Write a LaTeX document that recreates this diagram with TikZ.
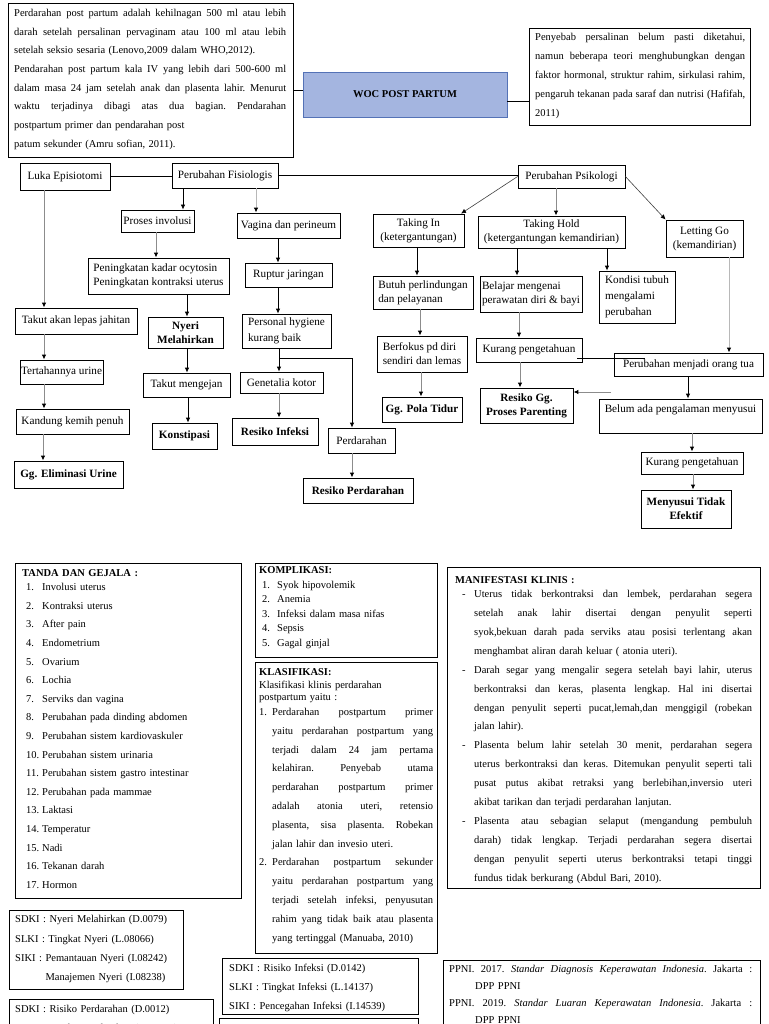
\documentclass[tikz,border=0pt]{standalone}
\usepackage{fontspec}
\setmainfont{Liberation Serif}
\usetikzlibrary{arrows.meta}
\definecolor{wocfill}{RGB}{164,181,224}
\definecolor{wocdraw}{RGB}{84,114,182}
\newcommand\jsp{\frenchspacing\spaceskip=0.25em plus 1fil\relax}
\newcommand\jl[1]{\makebox[\linewidth][s]{\jsp#1}\par}
\newcommand\rl[1]{#1\par}
\newcommand\jx[2]{\hspace*{#1}\makebox[\dimexpr\linewidth-#1\relax][s]{\jsp#2}\par}
\newcommand\rx[2]{\hspace*{#1}#2\par}
\newcommand\jd[1]{\hspace*{7pt}\makebox[12pt][l]{-}\makebox[\dimexpr\linewidth-19pt\relax][s]{\jsp#1}\par}
\newcommand\li[4]{\hspace*{#1}\makebox[#2][l]{#3}#4\par}
\newcommand\myBold{\fontsize{11.2}{14}\selectfont\bfseries}
\newcommand\bx[7][]{%
  \pgfmathsetmacro\bxw{#5-#3}\pgfmathsetmacro\bxh{#6-#4}%
  \pgfmathsetmacro\bxx{(#3+#5)/2}\pgfmathsetmacro\bxy{(#4+#6)/2}%
  \node[fb,minimum width=\bxw pt,minimum height=\bxh pt,#1] (#2) at (\bxx,\bxy) {#7};}
\newcommand\fr[5]{%
  \pgfmathsetmacro\bxw{#4-#2}\pgfmathsetmacro\bxh{#5-#3}%
  \node[frame,minimum width=\bxw pt,minimum height=\bxh pt] (#1) at (#2,#3) {};}
\begin{document}
\begin{tikzpicture}[x=1pt,y=-1pt,
  fb/.style={draw=black,line width=0.8pt,fill=white,inner sep=1pt,align=center,
    font=\fontsize{11.2}{14}\selectfont},
  frame/.style={draw=black,line width=0.8pt,fill=white,inner sep=0pt,anchor=north west},
  tx/.style={anchor=north west,inner sep=0pt},
  conn/.style={draw=black,line width=0.8pt},
  arr/.style={conn,-{Latex[length=5pt,width=4.5pt]}},
  arrD/.style={draw=black!75,line width=0.6pt,-{Latex[length=5pt,width=4.5pt,color=black]}},
  arrG/.style={draw=black!45,line width=1pt,-{Latex[length=5pt,width=4.5pt,color=black]}},
  arrL/.style={draw=black!28,line width=1pt,-{Latex[length=5pt,width=4.5pt,color=black]}},
]
\useasboundingbox (0,0) rectangle (768,1024);
\fill[white] (0,0) rectangle (768,1024);

% ---------- top ----------
\fr{tl}{8}{3}{293}{157}
\node[tx,text width=272pt,font=\fontsize{10.5}{18.7}\selectfont] (tlT) at (14,9) {%
\jl{Perdarahan post partum adalah kehilnagan 500 ml atau lebih}
\jl{darah setelah persalinan pervaginam atau 100 ml atau lebih}
\rl{setelah seksio sesaria (Lenovo,2009 dalam WHO,2012).}
\jl{Pendarahan post partum kala IV yang lebih dari 500-600 ml}
\jl{dalam masa 24 jam setelah anak dan plasenta lahir. Menurut}
\jl{waktu terjadinya dibagi atas dua bagian. Pendarahan}
\rl{postpartum primer dan pendarahan post}
\rl{patum sekunder (Amru sofian, 2011).}};

\node[draw=wocdraw,line width=0.8pt,fill=wocfill,minimum width=204pt,minimum height=45pt,
  font=\fontsize{10.5}{13}\selectfont\bfseries] (woc) at (405,94.5) {WOC POST PARTUM};

\fr{rt}{529}{28}{750}{125}
\node[tx,text width=210pt,font=\fontsize{10.5}{19}\selectfont] (rtT) at (535,33.5) {%
\jl{Penyebab persalinan belum pasti diketahui,}
\jl{namun beberapa teori menghubungkan dengan}
\jl{faktor hormonal, struktur rahim, sirkulasi rahim,}
\jl{pengaruh tekanan pada saraf dan nutrisi (Hafifah,}
\rl{2011)}};

\draw[conn] (tl.east |- 0,90) -- (woc.west |- 0,90);
\draw[conn] (woc.east |- 0,101) -- (rt.west |- 0,101);

% ---------- flow: fisiologis ----------
\bx{luka}{20}{163}{110}{190}{Luka Episiotomi}
\bx{fis}{172}{163}{278}{188}{Perubahan Fisiologis}
\bx{psi}{518}{165}{625}{188}{Perubahan Psikologi}
\bx{invol}{121}{210}{194}{232}{Proses involusi}
\bx{vag}{237}{213}{340}{238}{Vagina dan perineum}
\bx[align=left]{ocy}{88}{258}{229}{294}{Peningkatan kadar ocytosin\\Peningkatan kontraksi uterus}
\bx{rup}{245}{263}{332}{287}{Ruptur jaringan}
\bx{takut}{15}{308}{137}{334}{Takut akan lepas jahitan}
\bx[font=\myBold]{nyeri}{148}{317}{223}{348}{Nyeri\\Melahirkan}
\bx[align=left,font=\fontsize{11.2}{16}\selectfont]{pers}{242}{314}{331}{348}{Personal hygiene\\kurang baik}
\bx{tert}{26}{360}{97}{384}{Tertahannya urine}
\bx{kand}{16}{409}{129}{434}{Kandung kemih penuh}
\bx[font=\myBold]{elim}{14}{461}{123}{488}{Gg. Eliminasi Urine}
\bx{mengejan}{143}{373}{230}{397}{Takut mengejan}
\bx[font=\myBold]{konst}{152}{423}{217}{449}{Konstipasi}
\bx{gen}{240}{372}{323}{393}{Genetalia kotor}
\bx[font=\myBold]{rinf}{232}{418}{318}{445}{Resiko Infeksi}
\bx{perd}{328}{428}{395}{453}{Perdarahan}
\bx[font=\myBold]{rperd}{303}{478}{413}{503}{Resiko Perdarahan}

% ---------- flow: psikologi ----------
\bx{tin}{373}{214}{464}{247}{Taking In\\(ketergantungan)}
\bx{thold}{478}{216}{625}{248}{Taking Hold\\(ketergantungan kemandirian)}
\bx{lgo}{666}{220}{743}{257}{Letting Go\\(kemandirian)}
\bx[align=left]{butuh}{373}{276}{473}{309}{Butuh perlindungan\\dan pelayanan}
\bx[align=left]{belajar}{480}{276}{582}{312}{Belajar mengenai\\perawatan diri \& bayi}
\bx[align=left,font=\fontsize{11.2}{16}\selectfont]{kondisi}{599}{271}{675}{323}{Kondisi tubuh\\mengalami\\perubahan}
\bx[align=left]{berf}{377}{336}{467}{372}{Berfokus pd diri\\sendiri dan lemas}
\bx[font=\myBold]{pola}{382}{397}{462}{422}{Gg. Pola Tidur}
\bx{kurang}{476}{338}{582}{362}{Kurang pengetahuan}
\bx[font=\myBold]{parent}{480}{388}{573}{423}{Resiko Gg.\\Proses Parenting}
\bx{ortu}{614}{353}{763}{376}{Perubahan menjadi orang tua}
\bx{belum}{599}{399}{762}{433}{Belum ada pengalaman menyusui\\\mbox{}}
\bx{kurang2}{641}{452}{743}{474}{Kurang pengetahuan}
\bx[font=\myBold]{menyusui}{641}{490}{731}{528}{Menyusui Tidak\\Efektif}

% ---------- connectors ----------
\draw[conn] (luka.east) -- (luka.east -| fis.west);
\draw[conn] (fis.east) -- (fis.east -| psi.west);
\draw[arr] (183,0 |- fis.south) -- (183,0 |- invol.north);
\draw[arrL] (256,0 |- fis.south) -- (256,0 |- vag.north);
\draw[arrG] (156,0 |- invol.south) -- (156,0 |- ocy.north);
\draw[arr] (278,0 |- vag.south) -- (278,0 |- rup.north);
\draw[arr] (187,0 |- ocy.south) -- (187,0 |- nyeri.north);
\draw[arr] (278,0 |- rup.south) -- (278,0 |- pers.north);
\draw[arrG] (44,0 |- luka.south) -- (44,0 |- takut.north);
\draw[arrG] (44,0 |- takut.south) -- (44,0 |- tert.north);
\draw[arrG] (44,0 |- tert.south) -- (44,0 |- kand.north);
\draw[arrG] (43,0 |- kand.south) -- (43,0 |- elim.north);
\draw[arr] (187,0 |- nyeri.south) -- (187,0 |- mengejan.north);
\draw[arr] (188,0 |- mengejan.south) -- (188,0 |- konst.north);
\coordinate (split) at (279,358);
\coordinate (bend) at (352,358);
\draw[conn] (279,0 |- pers.south) -- (split);
\draw[arr] (split) -- (279,0 |- gen.north);
\draw[arr] (split) -- (bend) -- (bend |- perd.north);
\draw[arrG] (279,0 |- gen.south) -- (279,0 |- rinf.north);
\draw[arrG] (352,0 |- perd.south) -- (352,0 |- rperd.north);

\draw[arrD] (psi.west) -- (461,0 |- tin.north);
\draw[arrG] (556,0 |- psi.south) -- (556,0 |- thold.north);
\draw[arrD] (psi.east) -- (lgo.north west);
\draw[arr] (417,0 |- tin.south) -- (417,0 |- butuh.north);
\draw[arr] (517,0 |- thold.south) -- (517,0 |- belajar.north);
\draw[arr] (607,0 |- thold.south) -- (607,0 |- kondisi.north);
\draw[arrL] (729,0 |- lgo.south) -- (729,0 |- ortu.north);
\draw[arrG] (420,0 |- butuh.south) -- (420,0 |- berf.north);
\draw[arrG] (421,0 |- berf.south) -- (421,0 |- pola.north);
\draw[arrG] (519,0 |- belajar.south) -- (519,0 |- kurang.north);
\draw[arrG] (520,0 |- kurang.south) -- (520,0 |- parent.north);
\coordinate (kk) at ([xshift=-5pt,yshift=-8pt]kurang.east);
\draw[conn] (kk) -- (645,0 |- kk);
\coordinate (fa) at (611,392);
\draw[arrG] (fa) -- (parent.east |- fa);
\draw[arr] (688,0 |- ortu.south) -- (688,0 |- belum.north);
\draw[arrG] (692,0 |- belum.south) -- (692,0 |- kurang2.north);
\draw[arrG] (693,0 |- kurang2.south) -- (693,0 |- menyusui.north);

% ---------- tanda dan gejala ----------
\fr{tg}{15}{563}{241}{898}
\node[tx,text width=215pt,font=\fontsize{10.5}{18.6}\selectfont] (tgT) at (22,569.5) {%
\textbf{TANDA DAN GEJALA :}\par\vspace{-4.6pt}
\li{4pt}{16pt}{1.}{Involusi uterus}
\li{4pt}{16pt}{2.}{Kontraksi uterus}
\li{4pt}{16pt}{3.}{After pain}
\li{4pt}{16pt}{4.}{Endometrium}
\li{4pt}{16pt}{5.}{Ovarium}
\li{4pt}{16pt}{6.}{Lochia}
\li{4pt}{16pt}{7.}{Serviks dan vagina}
\li{4pt}{16pt}{8.}{Perubahan pada dinding abdomen}
\li{4pt}{16pt}{9.}{Perubahan sistem kardiovaskuler}
\li{4pt}{16pt}{10.}{Perubahan sistem urinaria}
\li{4pt}{16pt}{11.}{Perubahan sistem gastro intestinar}
\li{4pt}{16pt}{12.}{Perubahan pada mammae}
\li{4pt}{16pt}{13.}{Laktasi}
\li{4pt}{16pt}{14.}{Temperatur}
\li{4pt}{16pt}{15.}{Nadi}
\li{4pt}{16pt}{16.}{Tekanan darah}
\li{4pt}{16pt}{17.}{Hormon}};

% ---------- komplikasi ----------
\fr{kp}{255}{563}{437}{657}
\node[tx,text width=174pt,font=\fontsize{10.5}{14.5}\selectfont] (kpT) at (259,566.5) {%
\textbf{KOMPLIKASI:}\par
\li{3pt}{15pt}{1.}{Syok hipovolemik}
\li{3pt}{15pt}{2.}{Anemia}
\li{3pt}{15pt}{3.}{Infeksi dalam masa nifas}
\li{3pt}{15pt}{4.}{Sepsis}
\li{3pt}{15pt}{5.}{Gagal ginjal}};

% ---------- klasifikasi ----------
\fr{kl}{255}{662}{437}{953}
\node[tx,text width=174pt,font=\fontsize{10.5}{12.5}\selectfont] (klT) at (259,668.5) {%
\textbf{KLASIFIKASI:}\par
Klasifikasi klinis perdarahan\par
postpartum yaitu :\par
\fontsize{10.5}{18.8}\selectfont\vspace{-4pt}
\jl{\makebox[13pt][l]{1.}Perdarahan postpartum primer}
\jx{13pt}{yaitu perdarahan postpartum yang}
\jx{13pt}{terjadi dalam 24 jam pertama}
\jx{13pt}{kelahiran. Penyebab utama}
\jx{13pt}{perdarahan postpartum primer}
\jx{13pt}{adalah atonia uteri, retensio}
\jx{13pt}{plasenta, sisa plasenta. Robekan}
\rx{13pt}{jalan lahir dan invesio uteri.}
\jl{\makebox[13pt][l]{2.}Perdarahan postpartum sekunder}
\jx{13pt}{yaitu perdarahan postpartum yang}
\jx{13pt}{terjadi setelah infeksi, penyusutan}
\jx{13pt}{rahim yang tidak baik atau plasenta}
\rx{13pt}{yang tertinggal (Manuaba, 2010)}};

% ---------- manifestasi ----------
\fr{mk}{447}{567}{760}{888}
\node[tx,text width=297pt,font=\fontsize{10.5}{18.9}\selectfont] (mkT) at (455,576.5) {%
\textbf{MANIFESTASI KLINIS :}\par\vspace{-4.9pt}
\jd{Uterus tidak berkontraksi dan lembek, perdarahan segera}
\jx{19pt}{setelah anak lahir disertai dengan penyulit seperti}
\jx{19pt}{syok,bekuan darah pada serviks atau posisi terlentang akan}
\rx{19pt}{menghambat aliran darah keluar ( atonia uteri).}
\jd{Darah segar yang mengalir segera setelah bayi lahir, uterus}
\jx{19pt}{berkontraksi dan keras, plasenta lengkap. Hal ini disertai}
\jx{19pt}{dengan penyulit seperti pucat,lemah,dan menggigil (robekan}
\rx{19pt}{jalan lahir).}
\jd{Plasenta belum lahir setelah 30 menit, perdarahan segera}
\jx{19pt}{uterus berkontraksi dan keras. Ditemukan penyulit seperti tali}
\jx{19pt}{pusat putus akibat retraksi yang berlebihan,inversio uteri}
\rx{19pt}{akibat tarikan dan terjadi perdarahan lanjutan.}
\jd{Plasenta atau sebagian selaput (mengandung pembuluh}
\jx{19pt}{darah) tidak lengkap. Terjadi perdarahan segera disertai}
\jx{19pt}{dengan penyulit seperti uterus berkontraksi tetapi tinggi}
\rx{19pt}{fundus tidak berkurang (Abdul Bari, 2010).}};

% ---------- SDKI boxes ----------
\fr{sa}{9}{910}{183}{989}
\node[tx,text width=170pt,font=\fontsize{10.5}{19.3}\selectfont] (saT) at (15,915.5) {%
SDKI : Nyeri Melahirkan (D.0079)\par
SLKI : Tingkat Nyeri (L.08066)\par
SIKI : Pemantauan Nyeri (I.08242)\par
\phantom{SIKI : }Manajemen Nyeri (I.08238)\par};

\fr{sb}{9}{999}{213}{1040}
\node[tx,text width=200pt,font=\fontsize{10.5}{19}\selectfont] (sbT) at (15,1005.5) {%
SDKI : Risiko Perdarahan (D.0012)\par
SLKI : Tingkat Perdarahan (L.02017)\par};

\fr{sc}{222}{958}{418}{1014}
\node[tx,text width=190pt,font=\fontsize{10.5}{19}\selectfont] (scT) at (229,963.5) {%
SDKI : Risiko Infeksi (D.0142)\par
SLKI : Tingkat Infeksi (L.14137)\par
SIKI : Pencegahan Infeksi (I.14539)\par};

\fr{sd}{219}{1018}{418}{1040}

\fr{pp}{443}{960}{760}{1040}
\node[tx,text width=303pt,font=\fontsize{10.5}{17}\selectfont] (ppT) at (449,965.5) {%
\jl{PPNI. 2017. \textit{Standar Diagnosis Keperawatan Indonesia}. Jakarta :}
\rx{26pt}{DPP PPNI}
\jl{PPNI. 2019. \textit{Standar Luaran Keperawatan Indonesia}. Jakarta :}
\rx{26pt}{DPP PPNI}};
\end{tikzpicture}
\end{document}
